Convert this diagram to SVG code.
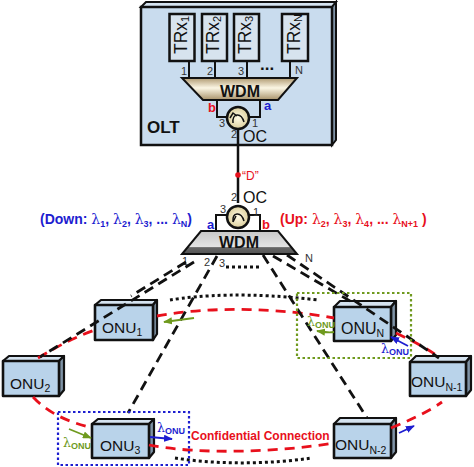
<svg xmlns="http://www.w3.org/2000/svg" width="474" height="467" viewBox="0 0 474 467">
<style>
text{font-family:"Liberation Sans",Arial,sans-serif;fill:#111}
.onu{fill:#b9d3ea;stroke:#111;stroke-width:2.600;stroke-linejoin:round}
.onut{fill:#d5e3f0;stroke:#111;stroke-width:2.200;stroke-linejoin:round}
.onus{fill:#7f93a6;stroke:#111;stroke-width:2.200;stroke-linejoin:round}
.lbl{font-size:17.500px}
.on{font-size:15.500px}
.sub{font-size:10.500px}
.trx{fill:#d7e3ee;stroke:#111;stroke-width:2.500}
.w{fill:none;stroke:#111;stroke-width:2}
.bd{fill:none;stroke:#111;stroke-width:2.800;stroke-dasharray:10 6}
.rd{fill:none;stroke:#e8101c;stroke-width:2.800;stroke-dasharray:10 7}
.dt{fill:none;stroke:#111;stroke-width:3;stroke-dasharray:3 3}
.n{font-size:11px;fill:#333}
.blue{fill:#1d1dd0}
.red{fill:#e8101c}
.grn{fill:#6f9a1e}
.ab{font-weight:bold;font-size:13px}
.sym{font-family:"DejaVu Serif",serif;font-weight:normal}
.wl{font-size:12.500px;font-weight:bold}
.ws{font-size:9px}
</style>
<defs>
<linearGradient id="g1" x1="0" y1="0" x2="0" y2="1"><stop offset="0" stop-color="#b09a72"/><stop offset=".45" stop-color="#fbf6e4"/><stop offset="1" stop-color="#a8926a"/></linearGradient>
<linearGradient id="g2" x1="0" y1="0" x2="0" y2="1"><stop offset="0" stop-color="#c8c8c8"/><stop offset=".7" stop-color="#e4e4e4"/><stop offset=".72" stop-color="#666"/><stop offset="1" stop-color="#555"/></linearGradient>
<radialGradient id="g3"><stop offset="0" stop-color="#fffbe6"/><stop offset="1" stop-color="#dccf9c"/></radialGradient>
<marker id="mg" markerWidth="5" markerHeight="4" refX="4.500" refY="2" orient="auto"><path d="M0 0L5 2L0 4z" fill="#6f9a1e"/></marker>
<marker id="mb" markerWidth="5" markerHeight="4" refX="4.500" refY="2" orient="auto"><path d="M0 0L5 2L0 4z" fill="#1d1dd0"/></marker>
</defs>

<g id="olt">
<path d="M141 7L146 2H336L332 7z" fill="#d5e3f0" stroke="#111" stroke-width="2"/>
<path d="M332 7L336 2V140L332 145z" fill="#7f93a6" stroke="#111" stroke-width="2"/>
<rect x="141" y="7" width="191" height="138" fill="#c9dcee" stroke="#111" stroke-width="2.500"/>
<text x="147" y="133" font-size="17" font-weight="bold">OLT</text>
</g>
<g id="trx1"><rect class="trx" x="169.500" y="14" width="25" height="47"/><text transform="translate(187 54) rotate(-90)" class="lbl">TRx<tspan font-size="11" dy="2">1</tspan></text></g>
<g id="trx2"><rect class="trx" x="202" y="14" width="25" height="47"/><text transform="translate(219 54) rotate(-90)" class="lbl">TRx<tspan font-size="11" dy="2">2</tspan></text></g>
<g id="trx3"><rect class="trx" x="234" y="14" width="25" height="47"/><text transform="translate(251 54) rotate(-90)" class="lbl">TRx<tspan font-size="11" dy="2">3</tspan></text></g>
<g id="trxN"><rect class="trx" x="282" y="14" width="26" height="47"/><text transform="translate(300 54) rotate(-90)" class="lbl">TRx<tspan font-size="11" dy="2">N</tspan></text></g>

<g id="olt-wires">
<path class="w" d="M189 61V78M215 61V78M247 61V78M290 61V78M217 100V117H228M260 100V117H249"/>
<path d="M238 129V203" fill="none" stroke="#111" stroke-width="2.500"/>
<text class="n" x="181" y="75">1</text><text class="n" x="207" y="75">2</text><text class="n" x="238" y="75">3</text><text class="n" x="295" y="74">N</text>
<text x="260" y="70" font-size="17" font-weight="bold">...</text>
</g>
<g id="wdm-olt">
<path d="M182 78H297L278 100H203z" fill="url(#g1)" stroke="#111" stroke-width="2"/>
<text x="240" y="97" font-size="16" font-weight="bold" text-anchor="middle">WDM</text>
<text class="ab red" x="208" y="112">b</text><text class="ab blue" x="264" y="110">a</text>
</g>
<g id="oc-olt">
<circle cx="238" cy="118" r="11" fill="url(#g3)" stroke="#111" stroke-width="2.500"/>
<path d="M233 123C232 113 241 112 244 122M230 118L233 113L237 116" fill="none" stroke="#111" stroke-width="1.500"/>
<text class="n" x="219" y="127">3</text><text class="n" x="252" y="127">1</text><text class="n" x="231" y="138">2</text>
<text x="243" y="142" font-size="16">OC</text>
</g>

<g id="point-d">
<circle cx="238" cy="175" r="2.800" fill="#e8101c"/>
<text class="red" x="242" y="180" font-size="12">“D”</text>
</g>

<text class="blue" x="40" y="224" font-size="14" font-weight="bold">(Down: <tspan class="sym">λ</tspan><tspan font-size="9" dy="3">1</tspan><tspan dy="-3">, </tspan><tspan class="sym">λ</tspan><tspan font-size="9" dy="3">2</tspan><tspan dy="-3">, </tspan><tspan class="sym">λ</tspan><tspan font-size="9" dy="3">3</tspan><tspan dy="-3">, ... </tspan><tspan class="sym">λ</tspan><tspan font-size="9" dy="3">N</tspan><tspan dy="-3">)</tspan></text>
<text class="red" x="280" y="224" font-size="14" font-weight="bold">(Up: <tspan class="sym">λ</tspan><tspan font-size="9" dy="3">2</tspan><tspan dy="-3">, </tspan><tspan class="sym">λ</tspan><tspan font-size="9" dy="3">3</tspan><tspan dy="-3">, </tspan><tspan class="sym">λ</tspan><tspan font-size="9" dy="3">4</tspan><tspan dy="-3">, ... </tspan><tspan class="sym">λ</tspan><tspan font-size="9" dy="3">N+1</tspan><tspan dy="-3"> )</tspan></text>

<g id="oc-odn">
<path class="w" d="M216 231V215H228M260 231V215H249"/>
<circle cx="238" cy="217" r="11" fill="url(#g3)" stroke="#111" stroke-width="2.500"/>
<path d="M233 222C232 212 241 211 244 221M233 222L236 216" fill="none" stroke="#111" stroke-width="1.500"/>
<text x="243" y="203" font-size="16">OC</text>
<text class="n" x="231" y="201">2</text><text class="n" x="220" y="213">3</text><text class="n" x="253" y="216">1</text>
<text class="ab blue" x="207" y="229">a</text><text class="ab red" x="262" y="229">b</text>
</g>
<g id="wdm-odn">
<path d="M201 231H278L297 254H182z" fill="url(#g2)" stroke="#111" stroke-width="2"/>
<text x="239" y="248" font-size="16" font-weight="bold" text-anchor="middle">WDM</text>
<text class="n" x="182" y="265">1</text><text class="n" x="204" y="266">2</text><text class="n" x="219" y="267">3</text><text class="n" x="305" y="262">N</text>
</g>

<g id="onu1"><path class="onut" d="M95 305L101 300H157L153 305z"/><path class="onus" d="M153 305L157 300V334L153 340z"/><rect class="onu" x="95" y="305" width="58" height="35"/><text class="on" x="102" y="333">ONU<tspan class="sub" dy="3">1</tspan></text></g>
<g id="onu2"><path class="onut" d="M3 361L9 356H64L59 361z"/><path class="onus" d="M59 361L64 356V390L59 396z"/><rect class="onu" x="3" y="361" width="56" height="35"/><text class="on" x="10" y="389">ONU<tspan class="sub" dy="3">2</tspan></text></g>
<g id="onu3"><path class="onut" d="M92 424L98 419H154L149 424z"/><path class="onus" d="M149 424L154 419V452L149 458z"/><rect class="onu" x="92" y="424" width="57" height="34"/><text class="on" x="100" y="451">ONU<tspan class="sub" dy="3">3</tspan></text></g>
<g id="onuN"><path class="onut" d="M334 307L340 301H396L391 307z"/><path class="onus" d="M391 307L396 301V335L391 341z"/><rect class="onu" x="334" y="307" width="57" height="34"/><text x="341" y="334" font-size="16">ONU<tspan class="sub" dy="3">N</tspan></text></g>
<g id="onuN-1"><path class="onut" d="M410 362L416 356H471L466 362z"/><path class="onus" d="M466 362L471 356V390L466 396z"/><rect class="onu" x="410" y="362" width="56" height="34"/><text class="on" x="411" y="387">ONU<tspan class="sub" dy="4">N-1</tspan></text></g>
<g id="onuN-2"><path class="onut" d="M334 424L340 418H396L391 424z"/><path class="onus" d="M391 424L396 418V452L391 458z"/><rect class="onu" x="334" y="424" width="57" height="34"/><text class="on" x="335" y="450">ONU<tspan class="sub" dy="4">N-2</tspan></text></g>

<g id="connectors">
<path class="rd" d="M38 358C60 345 75 337 95 330M157 316C210 306 280 308 334 318M396 333C415 342 430 350 440 358M33 397C50 415 70 422 92 428M149 445C200 455 280 452 334 443M391 428C410 420 428 412 442 402"/>
<path class="bd" d="M194 262L40 357M186 262L131 296M217 256L128 413M263 255L367 418M273 256L350 301M287 255L439 358"/>
<path class="dt" d="M170 300C200 295 250 292 318 300M175 458C220 465 270 464 312 458M226 267H260"/>
<rect x="297" y="293" width="114" height="65" fill="none" stroke="#6f9a1e" stroke-width="2.200" stroke-dasharray="2.500 2.500"/>
<rect x="58" y="412" width="131" height="53" fill="none" stroke="#1d1dd0" stroke-width="2.200" stroke-dasharray="2.500 2.500"/>
</g>

<g id="wave-labels">
<path d="M194 318L164 322" stroke="#6f9a1e" stroke-width="1.800" marker-end="url(#mg)" fill="none"/>
<path d="M69 429L91 438" stroke="#6f9a1e" stroke-width="1.800" marker-end="url(#mg)" fill="none"/>
<path d="M150 437L172 439" stroke="#1d1dd0" stroke-width="1.800" marker-end="url(#mb)" fill="none"/>
<path d="M334 332C328 333 324 332 317 331" stroke="#6f9a1e" stroke-width="1.800" marker-end="url(#mg)" fill="none"/>
<path d="M408 346L391 337" stroke="#1d1dd0" stroke-width="1.800" marker-end="url(#mb)" fill="none"/>
<path d="M399 433L414 426" stroke="#1d1dd0" stroke-width="1.800" marker-end="url(#mb)" fill="none"/>
<text class="grn wl" x="63" y="447"><tspan class="sym">λ</tspan><tspan class="ws" dy="2">ONU</tspan></text>
<text class="blue wl" x="157" y="432"><tspan class="sym">λ</tspan><tspan class="ws" dy="2">ONU</tspan></text>
<text class="grn wl" x="307" y="326"><tspan class="sym">λ</tspan><tspan class="ws" dy="2">ONU</tspan></text>
<text class="blue wl" x="381" y="353"><tspan class="sym">λ</tspan><tspan class="ws" dy="2">ONU</tspan></text>
<text class="red" x="191" y="440" font-size="12" font-weight="bold">Confidential Connection</text>
</g>
</svg>
